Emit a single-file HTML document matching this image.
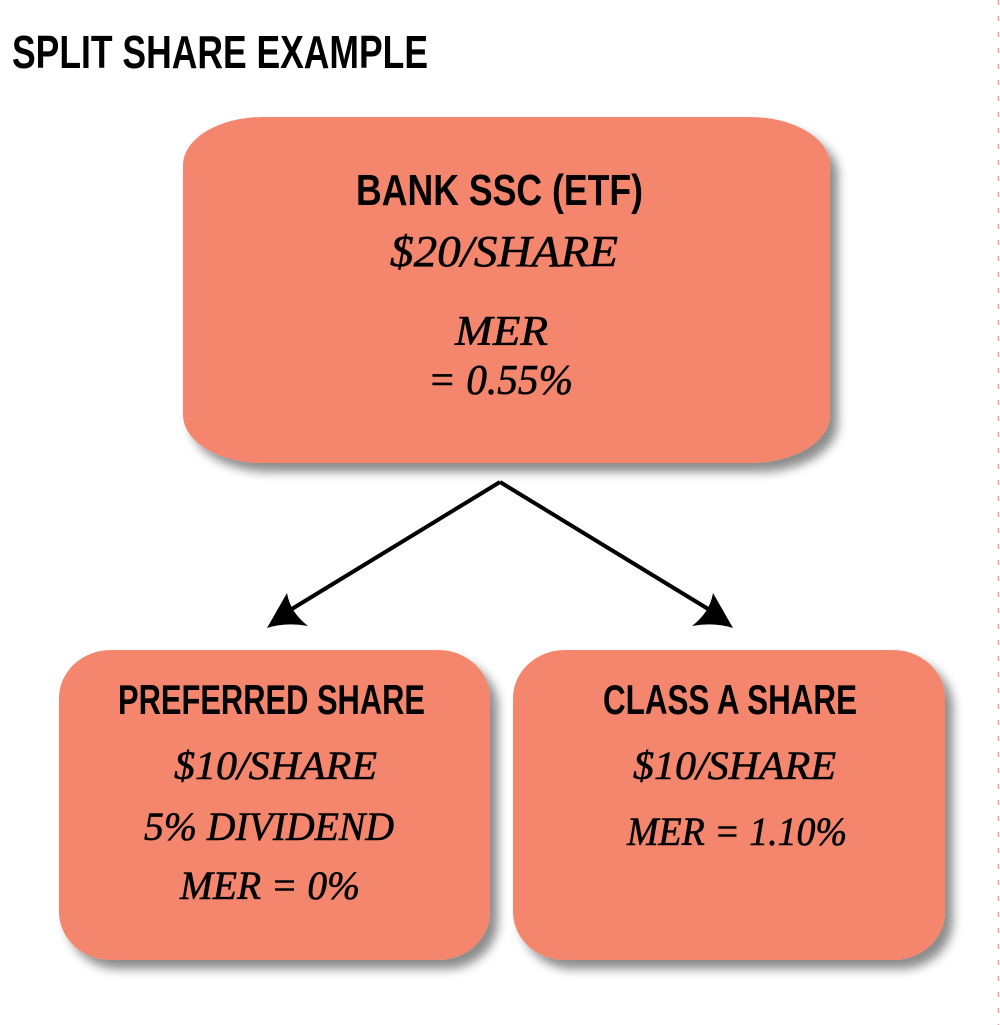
<!DOCTYPE html>
<html><head><meta charset="utf-8"><style>
html,body{margin:0;padding:0;background:#fff;}
svg{display:block;}
.s{font-family:"Liberation Sans",sans-serif;font-weight:bold;fill:#000;}
.r{font-family:"Liberation Serif",serif;font-style:italic;fill:#000;stroke:#000;stroke-width:0.6;}
</style></head><body>
<svg width="1000" height="1025" viewBox="0 0 1000 1025" xmlns="http://www.w3.org/2000/svg">
<defs>
<filter id="sh" x="-10%" y="-10%" width="130%" height="130%">
<feDropShadow dx="8" dy="9" stdDeviation="5" flood-color="#000" flood-opacity="0.45"/>
</filter>
</defs>
<line x1="998.5" y1="0" x2="998.5" y2="1025" stroke="#e0a0a0" stroke-width="1.5" stroke-dasharray="5,11"/>
<text class="s" x="12" y="68" font-size="46" textLength="416" lengthAdjust="spacingAndGlyphs">SPLIT SHARE EXAMPLE</text>

<rect x="183" y="117" width="647" height="346" rx="80" ry="48" fill="#f4866e" filter="url(#sh)"/>
<rect x="59" y="650" width="431" height="310" rx="52" ry="48" fill="#f4866e" filter="url(#sh)"/>
<rect x="513" y="650" width="432" height="310" rx="52" ry="48" fill="#f4866e" filter="url(#sh)"/>

<text class="s" x="356" y="205" font-size="44" textLength="287" lengthAdjust="spacingAndGlyphs">BANK SSC (ETF)</text>
<text class="r" x="390" y="266" font-size="44" textLength="228" lengthAdjust="spacingAndGlyphs">$20/SHARE</text>
<text class="r" x="455" y="345" font-size="42" textLength="93" lengthAdjust="spacingAndGlyphs">MER</text>
<text class="r" x="428" y="394" font-size="42" textLength="145" lengthAdjust="spacingAndGlyphs">= 0.55%</text>

<line x1="500" y1="482" x2="282" y2="615" stroke="#000" stroke-width="4"/>
<line x1="500" y1="482" x2="718" y2="615" stroke="#000" stroke-width="4"/>
<path d="M267,628 L287,593 Q290,612 308,626 Q286,622 267,628 Z" fill="#000"/>
<path d="M733,628 L713,593 Q710,612 692,626 Q714,622 733,628 Z" fill="#000"/>

<text class="s" x="118" y="714" font-size="42" textLength="307" lengthAdjust="spacingAndGlyphs">PREFERRED SHARE</text>
<text class="r" x="174" y="779" font-size="40" textLength="203" lengthAdjust="spacingAndGlyphs">$10/SHARE</text>
<text class="r" x="144" y="840" font-size="40" textLength="250" lengthAdjust="spacingAndGlyphs">5% DIVIDEND</text>
<text class="r" x="180" y="899" font-size="40" textLength="180" lengthAdjust="spacingAndGlyphs">MER = 0%</text>

<text class="s" x="603" y="714" font-size="42" textLength="254" lengthAdjust="spacingAndGlyphs">CLASS A SHARE</text>
<text class="r" x="633" y="779" font-size="40" textLength="203" lengthAdjust="spacingAndGlyphs">$10/SHARE</text>
<text class="r" x="627" y="845" font-size="40" textLength="220" lengthAdjust="spacingAndGlyphs">MER = 1.10%</text>
</svg>
</body></html>
